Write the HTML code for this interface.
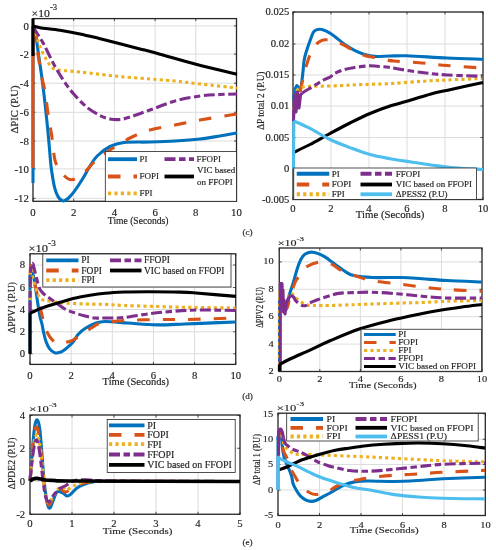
<!DOCTYPE html><html><head><meta charset="utf-8"><style>html,body{margin:0;padding:0;background:#fff;}svg{display:block;filter:blur(0.35px)}</style></head><body>
<svg width="496" height="550" viewBox="0 0 496 550" font-family="Liberation Serif, serif" fill="#262626">
<style>text{stroke:#262626;stroke-width:0.18px;}</style>
<rect width="496" height="550" fill="#fff"/>
<clipPath id="c1"><rect x="31" y="16.6" width="207.5" height="186.70000000000002"/></clipPath>
<rect x="33" y="18.6" width="203.5" height="182.70000000000002" fill="#fff"/>
<path d="M73.7,18.6V201.3M114.4,18.6V201.3M155.1,18.6V201.3M195.8,18.6V201.3M33,25.9H236.5M33,54.1H236.5M33,83.2H236.5M33,112.3H236.5M33,141H236.5M33,168.9H236.5M33,198.3H236.5" stroke="#dcdcdc" stroke-width="1" fill="none"/>
<path d="M33.0,201.3v-2.5M33.0,18.6v2.5M73.7,201.3v-2.5M73.7,18.6v2.5M114.4,201.3v-2.5M114.4,18.6v2.5M155.1,201.3v-2.5M155.1,18.6v2.5M195.8,201.3v-2.5M195.8,18.6v2.5M236.5,201.3v-2.5M236.5,18.6v2.5M33,25.9h2.5M236.5,25.9h-2.5M33,54.1h2.5M236.5,54.1h-2.5M33,83.2h2.5M236.5,83.2h-2.5M33,112.3h2.5M236.5,112.3h-2.5M33,141h2.5M236.5,141h-2.5M33,168.9h2.5M236.5,168.9h-2.5M33,198.3h2.5M236.5,198.3h-2.5" stroke="#262626" stroke-width="0.8" fill="none"/>
<rect x="33" y="18.6" width="203.5" height="182.70000000000002" fill="none" stroke="#262626" stroke-width="1.3"/>
<g clip-path="url(#c1)" fill="none" stroke-linejoin="round">
<path d="M33.00,26.00 L33.00,183.00" stroke="#0072BD" stroke-width="3.1"  stroke-linecap="butt"/>
<path d="M33.50,27.00 C33.75,27.67 34.45,28.50 35.00,31.00 C35.55,33.50 36.23,38.23 36.80,42.00 C37.37,45.77 37.57,47.75 38.40,53.60 C39.23,59.45 40.68,68.70 41.80,77.10 C42.92,85.50 43.98,93.92 45.10,104.00 C46.22,114.08 47.55,127.58 48.50,137.60 C49.45,147.62 50.13,157.63 50.80,164.10 C51.47,170.57 51.82,172.32 52.50,176.40 C53.18,180.48 53.95,185.20 54.90,188.60 C55.85,192.00 56.83,194.73 58.20,196.80 C59.57,198.87 61.47,200.72 63.10,201.00 C64.73,201.28 66.10,200.15 68.00,198.50 C69.90,196.85 72.05,194.38 74.50,191.10 C76.95,187.82 80.12,182.98 82.70,178.80 C85.28,174.62 87.58,169.80 90.00,166.00 C92.42,162.20 93.87,159.25 97.20,156.00 C100.53,152.75 105.53,148.75 110.00,146.50 C114.47,144.25 117.33,143.25 124.00,142.50 C130.67,141.75 141.50,142.25 150.00,142.00 C158.50,141.75 166.67,141.50 175.00,141.00 C183.33,140.50 192.50,139.83 200.00,139.00 C207.50,138.17 213.83,137.00 220.00,136.00 C226.17,135.00 234.17,133.50 237.00,133.00" stroke="#0072BD" stroke-width="3.1"  stroke-linecap="butt"/>
<path d="M33.00,26.00 L33.00,168.00" stroke="#D95319" stroke-width="3.1"  stroke-linecap="butt"/>
<path d="M33.50,27.00 C33.75,28.07 34.18,28.40 35.00,33.40 C35.82,38.40 37.27,49.72 38.40,57.00 C39.53,64.28 40.68,71.27 41.80,77.10 C42.92,82.93 43.98,85.27 45.10,92.00 C46.22,98.73 47.38,110.17 48.50,117.50 C49.62,124.83 50.73,128.92 51.80,136.00 C52.87,143.08 53.57,154.37 54.90,160.00 C56.23,165.63 58.28,167.22 59.80,169.80 C61.32,172.38 62.50,173.93 64.00,175.50 C65.50,177.07 67.30,178.53 68.80,179.20 C70.30,179.87 71.37,179.83 73.00,179.50 C74.63,179.17 76.60,178.45 78.60,177.20 C80.60,175.95 81.90,175.03 85.00,172.00 C88.10,168.97 93.03,162.67 97.20,159.00 C101.37,155.33 104.53,153.50 110.00,150.00 C115.47,146.50 123.33,141.33 130.00,138.00 C136.67,134.67 142.50,132.17 150.00,130.00 C157.50,127.83 166.67,126.67 175.00,125.00 C183.33,123.33 189.67,121.83 200.00,120.00 C210.33,118.17 230.83,115.00 237.00,114.00" stroke="#D95319" stroke-width="3.1" stroke-dasharray="12.5 13" stroke-linecap="butt"/>
<path d="M33.50,27.00 C33.75,27.80 33.90,28.48 35.00,31.80 C36.10,35.12 38.13,42.15 40.10,46.90 C42.07,51.65 44.57,56.67 46.80,60.30 C49.03,63.93 50.70,67.02 53.50,68.70 C56.30,70.38 59.12,69.83 63.60,70.40 C68.08,70.97 72.67,71.25 80.40,72.10 C88.13,72.95 102.57,74.68 110.00,75.50 C117.43,76.32 118.33,76.42 125.00,77.00 C131.67,77.58 141.67,78.33 150.00,79.00 C158.33,79.67 166.67,80.17 175.00,81.00 C183.33,81.83 189.67,82.83 200.00,84.00 C210.33,85.17 230.83,87.33 237.00,88.00" stroke="#EDB120" stroke-width="3.1" stroke-dasharray="3.2 3.2" stroke-linecap="butt"/>
<path d="M33.50,27.00 C33.75,27.50 33.35,27.25 35.00,30.00 C36.65,32.75 40.32,37.88 43.40,43.50 C46.48,49.12 50.13,57.53 53.50,63.70 C56.87,69.87 60.23,75.45 63.60,80.50 C66.97,85.55 69.78,89.52 73.70,94.00 C77.62,98.48 82.62,103.77 87.10,107.40 C91.58,111.03 96.78,113.87 100.60,115.80 C104.42,117.73 106.77,118.38 110.00,119.00 C113.23,119.62 116.67,119.83 120.00,119.50 C123.33,119.17 125.00,118.58 130.00,117.00 C135.00,115.42 142.50,112.67 150.00,110.00 C157.50,107.33 166.67,103.33 175.00,101.00 C183.33,98.67 192.50,97.08 200.00,96.00 C207.50,94.92 213.83,94.83 220.00,94.50 C226.17,94.17 234.17,94.08 237.00,94.00" stroke="#7E2F8E" stroke-width="3.1" stroke-dasharray="11 3.5 6.5 3.5" stroke-linecap="butt"/>
<path d="M33.00,18.50 L33.00,56.00" stroke="#000000" stroke-width="3.1"  stroke-linecap="butt"/>
<path d="M33.00,26.00 C34.17,26.28 35.50,27.00 40.00,27.70 C44.50,28.40 53.33,29.17 60.00,30.20 C66.67,31.23 73.33,32.48 80.00,33.90 C86.67,35.32 93.33,37.07 100.00,38.70 C106.67,40.33 113.33,42.00 120.00,43.70 C126.67,45.40 133.33,47.15 140.00,48.90 C146.67,50.65 150.67,51.65 160.00,54.20 C169.33,56.75 183.17,60.87 196.00,64.20 C208.83,67.53 230.17,72.53 237.00,74.20" stroke="#000000" stroke-width="3.1"  stroke-linecap="butt"/>
</g>
<text font-size="10.8" text-anchor="middle" transform="translate(33.00,216.15) scale(1,1.0)">0</text>
<text font-size="10.8" text-anchor="middle" transform="translate(73.70,216.15) scale(1,1.0)">2</text>
<text font-size="10.8" text-anchor="middle" transform="translate(114.40,216.15) scale(1,1.0)">4</text>
<text font-size="10.8" text-anchor="middle" transform="translate(155.10,216.15) scale(1,1.0)">6</text>
<text font-size="10.8" text-anchor="middle" transform="translate(195.80,216.15) scale(1,1.0)">8</text>
<text font-size="10.8" text-anchor="middle" transform="translate(236.50,216.15) scale(1,1.0)">10</text>
<text font-size="10.8" text-anchor="end" transform="translate(28.80,29.55) scale(1,1.0)">0</text>
<text font-size="10.8" text-anchor="end" transform="translate(28.80,57.75) scale(1,1.0)">-2</text>
<text font-size="10.8" text-anchor="end" transform="translate(28.80,86.85) scale(1,1.0)">-4</text>
<text font-size="10.8" text-anchor="end" transform="translate(28.80,115.95) scale(1,1.0)">-6</text>
<text font-size="10.8" text-anchor="end" transform="translate(28.80,144.65) scale(1,1.0)">-8</text>
<text font-size="10.8" text-anchor="end" transform="translate(28.80,172.55) scale(1,1.0)">-10</text>
<text font-size="10.8" text-anchor="end" transform="translate(28.80,201.95) scale(1,1.0)">-12</text>
<text font-size="9.6" text-anchor="middle" transform="translate(138.2,224.2) scale(1,1.0)">Time (Seconds)</text>
<text font-size="10.6" text-anchor="middle" transform="translate(18,109.5) rotate(-90) scale(1.0,1)">ΔPIC (P.U)</text>
<text font-size="11.7" transform="translate(31.61,16.6) scale(1,0.9)">×10<tspan font-size="8.66" dy="-7.02">-3</tspan></text>
<rect x="105.3" y="151.5" width="131.2" height="49.80000000000001" fill="#fff" stroke="#262626" stroke-width="0.8"/>
<path d="M108,159.2H137" stroke="#0072BD" stroke-width="3.8"  fill="none"/>
<text font-size="9" transform="translate(139.5,162.17) scale(1,1.0)">PI</text>
<path d="M108,176.5H137" stroke="#D95319" stroke-width="3.8" stroke-dasharray="12.5 13" fill="none"/>
<text font-size="9" transform="translate(139.5,179.47) scale(1,1.0)">FOPI</text>
<path d="M108,193.4H137" stroke="#EDB120" stroke-width="3.8" stroke-dasharray="3.2 3.2" fill="none"/>
<text font-size="9" transform="translate(139.5,196.37) scale(1,1.0)">FPI</text>
<path d="M164.5,159.2H194" stroke="#7E2F8E" stroke-width="3.8" stroke-dasharray="11 3.5 6.5 3.5" fill="none"/>
<text font-size="9" transform="translate(196.5,162.17) scale(1,1.0)">FFOPI</text>
<path d="M164.5,176.5H194" stroke="#000000" stroke-width="3.8"  fill="none"/>
<clipPath id="c2"><rect x="291" y="10" width="194" height="191.5"/></clipPath>
<rect x="293" y="12" width="190" height="187.5" fill="#fff"/>
<path d="M331.0,12V199.5M369.0,12V199.5M407.0,12V199.5M445.0,12V199.5M293,44H483M293,75H483M293,106H483M293,137.5H483M293,168.75H483" stroke="#dcdcdc" stroke-width="1" fill="none"/>
<path d="M293.0,199.5v-2.5M293.0,12v2.5M331.0,199.5v-2.5M331.0,12v2.5M369.0,199.5v-2.5M369.0,12v2.5M407.0,199.5v-2.5M407.0,12v2.5M445.0,199.5v-2.5M445.0,12v2.5M483.0,199.5v-2.5M483.0,12v2.5M293,12h2.5M483,12h-2.5M293,44h2.5M483,44h-2.5M293,75h2.5M483,75h-2.5M293,106h2.5M483,106h-2.5M293,137.5h2.5M483,137.5h-2.5M293,168.75h2.5M483,168.75h-2.5M293,199.5h2.5M483,199.5h-2.5" stroke="#262626" stroke-width="0.8" fill="none"/>
<rect x="293" y="12" width="190" height="187.5" fill="none" stroke="#262626" stroke-width="1.3"/>
<g clip-path="url(#c2)" fill="none" stroke-linejoin="round">
<path d="M293.50,100.00 C293.75,98.33 294.40,92.40 295.00,90.00 C295.60,87.60 296.42,85.50 297.10,85.60 C297.78,85.70 298.43,90.43 299.10,90.60 C299.77,90.77 300.43,89.95 301.10,86.60 C301.77,83.25 302.60,74.87 303.10,70.50 C303.60,66.13 303.60,63.43 304.10,60.40 C304.60,57.37 305.08,55.67 306.10,52.30 C307.12,48.93 308.85,43.72 310.20,40.20 C311.55,36.68 312.53,33.03 314.20,31.20 C315.87,29.37 318.18,29.20 320.20,29.20 C322.22,29.20 323.93,30.03 326.30,31.20 C328.67,32.37 331.38,34.02 334.40,36.20 C337.42,38.38 341.05,41.95 344.40,44.30 C347.75,46.65 351.13,48.62 354.50,50.30 C357.87,51.98 361.23,53.38 364.60,54.40 C367.97,55.42 370.47,56.13 374.70,56.40 C378.93,56.67 384.62,56.10 390.00,56.00 C395.38,55.90 397.50,55.47 407.00,55.80 C416.50,56.13 434.33,57.42 447.00,58.00 C459.67,58.58 477.00,59.04 483.00,59.25" stroke="#0072BD" stroke-width="3.1"  stroke-linecap="butt"/>
<path d="M300.00,92.00 C300.18,91.10 300.58,88.85 301.10,86.60 C301.62,84.35 302.27,81.85 303.10,78.50 C303.93,75.15 304.92,70.52 306.10,66.50 C307.28,62.48 308.52,58.10 310.20,54.40 C311.88,50.70 314.18,46.67 316.20,44.30 C318.22,41.93 320.45,40.95 322.30,40.20 C324.15,39.45 325.63,39.80 327.30,39.80 C328.97,39.80 329.45,39.28 332.30,40.20 C335.15,41.12 340.70,43.45 344.40,45.30 C348.10,47.15 351.13,49.62 354.50,51.30 C357.87,52.98 361.23,54.38 364.60,55.40 C367.97,56.42 370.67,56.57 374.70,57.40 C378.73,58.23 385.08,59.76 388.80,60.40 C392.52,61.04 391.47,60.82 397.00,61.25 C402.53,61.68 413.67,62.29 422.00,63.00 C430.33,63.71 437.00,64.67 447.00,65.50 C457.00,66.33 476.17,67.58 482.00,68.00" stroke="#D95319" stroke-width="3.1" stroke-dasharray="12.5 13" stroke-linecap="butt"/>
<path d="M293.50,110.00 C293.92,107.50 295.25,98.48 296.00,95.00 C296.75,91.52 296.32,90.50 298.00,89.10 C299.68,87.70 302.40,87.08 306.10,86.60 C309.80,86.12 314.48,86.37 320.20,86.20 C325.92,86.03 333.67,85.87 340.40,85.60 C347.13,85.33 352.33,84.93 360.60,84.60 C368.87,84.27 379.77,84.16 390.00,83.60 C400.23,83.04 412.50,81.85 422.00,81.25 C431.50,80.65 437.00,80.46 447.00,80.00 C457.00,79.54 476.17,78.75 482.00,78.50" stroke="#EDB120" stroke-width="3.1" stroke-dasharray="3.2 3.2" stroke-linecap="butt"/>
<path d="M293.50,121.00 C293.50,121.00 294.50,95.00 294.50,95.00 C294.50,95.00 296.00,112.00 296.00,112.00 C296.00,112.00 297.50,92.00 297.50,92.00 C297.50,92.00 299.00,108.00 299.00,108.00 C299.00,108.00 300.50,95.00 300.50,95.00 C300.50,95.00 302.10,93.10 302.10,93.10" stroke="#7E2F8E" stroke-width="3.1"  stroke-linecap="butt"/>
<path d="M302.10,93.10 C302.77,92.67 304.75,91.33 306.10,90.50 C307.45,89.67 308.85,88.92 310.20,88.10 C311.55,87.28 312.53,86.60 314.20,85.60 C315.87,84.60 318.52,83.10 320.20,82.10 C321.88,81.10 322.62,80.45 324.30,79.60 C325.98,78.75 328.62,78.02 330.30,77.00 C331.98,75.98 332.05,74.75 334.40,73.50 C336.75,72.25 341.05,70.50 344.40,69.50 C347.75,68.50 350.80,68.08 354.50,67.50 C358.20,66.92 363.23,66.25 366.60,66.00 C369.97,65.75 370.80,65.75 374.70,66.00 C378.60,66.25 386.28,67.04 390.00,67.50 C393.72,67.96 391.67,67.92 397.00,68.75 C402.33,69.58 413.67,71.46 422.00,72.50 C430.33,73.54 437.00,74.38 447.00,75.00 C457.00,75.62 476.17,76.04 482.00,76.25" stroke="#7E2F8E" stroke-width="3.1" stroke-dasharray="11 3.5 6.5 3.5" stroke-linecap="butt"/>
<path d="M293.50,152.50 C296.25,151.17 303.92,147.67 310.00,144.50 C316.08,141.33 323.33,137.08 330.00,133.50 C336.67,129.92 343.33,126.33 350.00,123.00 C356.67,119.67 363.33,116.33 370.00,113.50 C376.67,110.67 383.17,108.25 390.00,106.00 C396.83,103.75 404.17,102.00 411.00,100.00 C417.83,98.00 424.33,95.75 431.00,94.00 C437.67,92.25 442.33,91.42 451.00,89.50 C459.67,87.58 477.67,83.67 483.00,82.50" stroke="#000000" stroke-width="3.1"  stroke-linecap="butt"/>
<path d="M293.50,168.75 L293.80,121.00" stroke="#4DBEEE" stroke-width="3.1"  stroke-linecap="butt"/>
<path d="M293.80,121.00 C296.50,122.23 303.97,125.32 310.00,128.40 C316.03,131.48 323.33,136.30 330.00,139.50 C336.67,142.70 343.33,145.08 350.00,147.60 C356.67,150.12 363.33,152.75 370.00,154.60 C376.67,156.45 383.17,157.47 390.00,158.70 C396.83,159.93 404.17,160.95 411.00,162.00 C417.83,163.05 424.33,164.08 431.00,165.00 C437.67,165.92 442.33,166.75 451.00,167.50 C459.67,168.25 477.67,169.17 483.00,169.50" stroke="#4DBEEE" stroke-width="3.1"  stroke-linecap="butt"/>
</g>
<text font-size="10.6" text-anchor="middle" transform="translate(293.00,212.30) scale(1,0.92)">0</text>
<text font-size="10.6" text-anchor="middle" transform="translate(331.00,212.30) scale(1,0.92)">2</text>
<text font-size="10.6" text-anchor="middle" transform="translate(369.00,212.30) scale(1,0.92)">4</text>
<text font-size="10.6" text-anchor="middle" transform="translate(407.00,212.30) scale(1,0.92)">6</text>
<text font-size="10.6" text-anchor="middle" transform="translate(445.00,212.30) scale(1,0.92)">8</text>
<text font-size="10.6" text-anchor="middle" transform="translate(483.00,212.30) scale(1,0.92)">10</text>
<text font-size="10.6" text-anchor="end" transform="translate(289.30,15.30) scale(1,0.92)">0.025</text>
<text font-size="10.6" text-anchor="end" transform="translate(289.30,47.30) scale(1,0.92)">0.02</text>
<text font-size="10.6" text-anchor="end" transform="translate(289.30,78.30) scale(1,0.92)">0.015</text>
<text font-size="10.6" text-anchor="end" transform="translate(289.30,109.30) scale(1,0.92)">0.01</text>
<text font-size="10.6" text-anchor="end" transform="translate(289.30,140.80) scale(1,0.92)">0.005</text>
<text font-size="10.6" text-anchor="end" transform="translate(289.30,172.05) scale(1,0.92)">0</text>
<text font-size="10.6" text-anchor="end" transform="translate(289.30,202.80) scale(1,0.92)">-0.005</text>
<text font-size="10.85" text-anchor="middle" transform="translate(390,218.2) scale(1,0.93)">Time (Seconds)</text>
<text font-size="9.8" text-anchor="middle" transform="translate(264,100.7) rotate(-90) scale(0.95,1)">ΔP total 2 (P.U)</text>
<rect x="293.75" y="168" width="182.75" height="31.5" fill="#fff" stroke="#262626" stroke-width="0.8"/>
<path d="M296.75,173.75H329.25" stroke="#0072BD" stroke-width="3.8"  fill="none"/>
<text font-size="9" transform="translate(331.75,176.72) scale(1,1.0)">PI</text>
<path d="M296.75,184.5H329.25" stroke="#D95319" stroke-width="3.8" stroke-dasharray="12.5 13" fill="none"/>
<text font-size="9" transform="translate(331.75,187.47) scale(1,1.0)">FOPI</text>
<path d="M296.75,194.25H329.25" stroke="#EDB120" stroke-width="3.8" stroke-dasharray="3.2 3.2" fill="none"/>
<text font-size="9" transform="translate(331.75,197.22) scale(1,1.0)">FPI</text>
<path d="M360.5,173.75H392" stroke="#7E2F8E" stroke-width="3.8" stroke-dasharray="11 3.5 6.5 3.5" fill="none"/>
<text font-size="9" transform="translate(395.75,176.72) scale(1,1.0)">FFOPI</text>
<path d="M360.5,184.5H392" stroke="#000000" stroke-width="3.8"  fill="none"/>
<text font-size="9" transform="translate(395.75,187.47) scale(1,1.0)">VIC based on FFOPI</text>
<path d="M360.5,194.25H392" stroke="#4DBEEE" stroke-width="3.8"  fill="none"/>
<text font-size="9" transform="translate(395.75,197.22) scale(1,1.0)">ΔPESS2 (P.U)</text>
<clipPath id="c3"><rect x="28" y="251.8" width="209.75" height="114.59999999999997"/></clipPath>
<rect x="30" y="253.8" width="205.75" height="110.59999999999997" fill="#fff"/>
<path d="M71.15,253.8V364.4M112.3,253.8V364.4M153.45,253.8V364.4M194.6,253.8V364.4M30,265H235.75M30,287.5H235.75M30,309.5H235.75M30,331.75H235.75M30,353.75H235.75" stroke="#dcdcdc" stroke-width="1" fill="none"/>
<path d="M30.0,364.4v-2.5M30.0,253.8v2.5M71.15,364.4v-2.5M71.15,253.8v2.5M112.3,364.4v-2.5M112.3,253.8v2.5M153.45,364.4v-2.5M153.45,253.8v2.5M194.6,364.4v-2.5M194.6,253.8v2.5M235.75,364.4v-2.5M235.75,253.8v2.5M30,265h2.5M235.75,265h-2.5M30,287.5h2.5M235.75,287.5h-2.5M30,309.5h2.5M235.75,309.5h-2.5M30,331.75h2.5M235.75,331.75h-2.5M30,353.75h2.5M235.75,353.75h-2.5" stroke="#262626" stroke-width="0.8" fill="none"/>
<rect x="30" y="253.8" width="205.75" height="110.59999999999997" fill="none" stroke="#262626" stroke-width="1.3"/>
<g clip-path="url(#c3)" fill="none" stroke-linejoin="round">
<path d="M30.00,353.00 L30.00,275.00" stroke="#0072BD" stroke-width="3.1"  stroke-linecap="butt"/>
<path d="M30.00,280.00 C30.17,278.67 30.42,272.62 31.00,272.00 C31.58,271.38 32.68,273.22 33.50,276.30 C34.32,279.38 35.22,286.17 35.90,290.50 C36.58,294.83 36.92,297.97 37.60,302.30 C38.28,306.63 39.25,312.80 40.00,316.50 C40.75,320.20 41.48,321.75 42.10,324.50 C42.72,327.25 43.02,330.08 43.70,333.00 C44.38,335.92 45.23,339.40 46.20,342.00 C47.17,344.60 48.13,346.83 49.50,348.60 C50.87,350.37 52.77,351.93 54.40,352.60 C56.03,353.27 57.53,353.13 59.30,352.60 C61.07,352.07 62.82,351.03 65.00,349.40 C67.18,347.77 70.23,345.28 72.40,342.80 C74.57,340.32 75.90,336.88 78.00,334.50 C80.10,332.12 82.17,330.33 85.00,328.50 C87.83,326.67 91.67,324.67 95.00,323.50 C98.33,322.33 99.50,321.58 105.00,321.50 C110.50,321.42 119.42,322.43 128.00,323.00 C136.58,323.57 147.05,324.73 156.50,324.90 C165.95,325.07 175.28,324.33 184.70,324.00 C194.12,323.67 204.49,323.23 213.00,322.90 C221.51,322.57 231.96,322.15 235.75,322.00" stroke="#0072BD" stroke-width="3.1"  stroke-linecap="butt"/>
<path d="M30.00,275.00 C30.17,273.50 30.32,265.00 31.00,266.00 C31.68,267.00 33.18,276.92 34.10,281.00 C35.02,285.08 35.72,286.95 36.50,290.50 C37.28,294.05 37.92,298.37 38.80,302.30 C39.68,306.23 40.85,310.07 41.80,314.10 C42.75,318.13 43.22,322.80 44.50,326.50 C45.78,330.20 47.92,333.80 49.50,336.30 C51.08,338.80 52.67,340.30 54.00,341.50 C55.33,342.70 56.33,343.22 57.50,343.50 C58.67,343.78 58.52,343.72 61.00,343.20 C63.48,342.68 68.40,342.27 72.40,340.40 C76.40,338.53 81.57,334.23 85.00,332.00 C88.43,329.77 90.50,328.42 93.00,327.00 C95.50,325.58 94.83,324.58 100.00,323.50 C105.17,322.42 113.75,321.17 124.00,320.50 C134.25,319.83 151.08,319.67 161.50,319.50 C171.92,319.33 174.12,319.75 186.50,319.50 C198.88,319.25 227.54,318.25 235.75,318.00" stroke="#D95319" stroke-width="3.1" stroke-dasharray="12.5 13" stroke-linecap="butt"/>
<path d="M30.00,300.00 C30.08,295.33 30.33,277.00 30.50,272.00 C30.67,267.00 30.58,269.00 31.00,270.00 C31.42,271.00 32.00,274.33 33.00,278.00 C34.00,281.67 35.67,288.50 37.00,292.00 C38.33,295.50 39.00,297.50 41.00,299.00 C43.00,300.50 45.00,300.33 49.00,301.00 C53.00,301.67 59.00,302.50 65.00,303.00 C71.00,303.50 78.33,303.77 85.00,304.00 C91.67,304.23 98.50,304.15 105.00,304.40 C111.50,304.65 116.67,305.19 124.00,305.50 C131.33,305.81 140.67,306.00 149.00,306.25 C157.33,306.50 165.67,306.79 174.00,307.00 C182.33,307.21 188.71,307.33 199.00,307.50 C209.29,307.67 229.62,307.92 235.75,308.00" stroke="#EDB120" stroke-width="3.1" stroke-dasharray="3.2 3.2" stroke-linecap="butt"/>
<path d="M30.00,312.00 C30.08,305.83 30.25,282.83 30.50,275.00 C30.75,267.17 31.08,266.83 31.50,265.00 C31.92,263.17 32.42,262.83 33.00,264.00 C33.58,265.17 34.00,268.17 35.00,272.00 C36.00,275.83 37.83,283.67 39.00,287.00 C40.17,290.33 41.00,290.67 42.00,292.00 C43.00,293.33 42.83,293.33 45.00,295.00 C47.17,296.67 51.67,299.67 55.00,302.00 C58.33,304.33 61.67,307.17 65.00,309.00 C68.33,310.83 71.67,311.83 75.00,313.00 C78.33,314.17 81.67,315.17 85.00,316.00 C88.33,316.83 91.67,317.67 95.00,318.00 C98.33,318.33 100.17,318.08 105.00,318.00 C109.83,317.92 116.67,318.21 124.00,317.50 C131.33,316.79 140.67,314.79 149.00,313.75 C157.33,312.71 165.67,311.88 174.00,311.25 C182.33,310.62 188.71,310.12 199.00,310.00 C209.29,309.88 229.62,310.42 235.75,310.50" stroke="#7E2F8E" stroke-width="3.1" stroke-dasharray="11 3.5 6.5 3.5" stroke-linecap="butt"/>
<path d="M30.00,354.00 L30.00,312.50" stroke="#000000" stroke-width="3.1"  stroke-linecap="butt"/>
<path d="M30.00,313.00 C30.83,312.67 33.33,311.70 35.00,311.00 C36.67,310.30 37.50,309.75 40.00,308.80 C42.50,307.85 46.67,306.38 50.00,305.30 C53.33,304.22 55.00,303.67 60.00,302.30 C65.00,300.93 72.50,298.60 80.00,297.10 C87.50,295.60 97.67,294.15 105.00,293.30 C112.33,292.45 116.50,292.27 124.00,292.00 C131.50,291.73 140.67,291.68 150.00,291.70 C159.33,291.72 172.33,291.88 180.00,292.10 C187.67,292.32 186.67,292.28 196.00,293.00 C205.33,293.72 229.33,295.83 236.00,296.40" stroke="#000000" stroke-width="3.1"  stroke-linecap="butt"/>
</g>
<text font-size="10.7" text-anchor="middle" transform="translate(30.00,378.54) scale(1,0.95)">0</text>
<text font-size="10.7" text-anchor="middle" transform="translate(71.15,378.54) scale(1,0.95)">2</text>
<text font-size="10.7" text-anchor="middle" transform="translate(112.30,378.54) scale(1,0.95)">4</text>
<text font-size="10.7" text-anchor="middle" transform="translate(153.45,378.54) scale(1,0.95)">6</text>
<text font-size="10.7" text-anchor="middle" transform="translate(194.60,378.54) scale(1,0.95)">8</text>
<text font-size="10.7" text-anchor="middle" transform="translate(235.75,378.54) scale(1,0.95)">10</text>
<text font-size="10.7" text-anchor="end" transform="translate(25.20,268.44) scale(1,0.95)">8</text>
<text font-size="10.7" text-anchor="end" transform="translate(25.20,290.94) scale(1,0.95)">6</text>
<text font-size="10.7" text-anchor="end" transform="translate(25.20,312.94) scale(1,0.95)">4</text>
<text font-size="10.7" text-anchor="end" transform="translate(25.20,335.19) scale(1,0.95)">2</text>
<text font-size="10.7" text-anchor="end" transform="translate(25.20,357.19) scale(1,0.95)">0</text>
<text font-size="10.5" text-anchor="middle" transform="translate(135.8,385.2) scale(1,0.95)">Time (Seconds)</text>
<text font-size="10" text-anchor="middle" transform="translate(15.3,307.5) rotate(-90) scale(0.96,1)">ΔPPV1 (P.U)</text>
<text font-size="12.5" transform="translate(28.55,251.5) scale(1,0.78)">×10<tspan font-size="9.25" dy="-7.50">-3</tspan></text>
<rect x="42.8" y="254" width="188.2" height="33" fill="#fff" stroke="#262626" stroke-width="0.8"/>
<path d="M46.25,260.3H78.5" stroke="#0072BD" stroke-width="3.8"  fill="none"/>
<text font-size="9.5" transform="translate(81.25,263.44) scale(1,1.0)">PI</text>
<path d="M46.25,270.5H78.5" stroke="#D95319" stroke-width="3.8" stroke-dasharray="12.5 13" fill="none"/>
<text font-size="9.5" transform="translate(81.25,273.63) scale(1,1.0)">FOPI</text>
<path d="M46.25,280.2H78.5" stroke="#EDB120" stroke-width="3.8" stroke-dasharray="3.2 3.2" fill="none"/>
<text font-size="9.5" transform="translate(81.25,283.33) scale(1,1.0)">FPI</text>
<path d="M110,260.3H141.5" stroke="#7E2F8E" stroke-width="3.8" stroke-dasharray="11 3.5 6.5 3.5" fill="none"/>
<text font-size="9.5" transform="translate(144,263.44) scale(1,1.0)">FFOPI</text>
<path d="M110,270.5H141.5" stroke="#000000" stroke-width="3.8"  fill="none"/>
<text font-size="9.5" transform="translate(144,273.63) scale(1,1.0)">VIC based on FFOPI</text>
<clipPath id="c4"><rect x="277.25" y="246" width="206.75" height="127.5"/></clipPath>
<rect x="279.25" y="248" width="202.75" height="123.5" fill="#fff"/>
<path d="M319.8,248V371.5M360.35,248V371.5M400.9,248V371.5M441.45,248V371.5M279.25,261.9H482M279.25,289.3H482M279.25,316.7H482M279.25,344.1H482" stroke="#dcdcdc" stroke-width="1" fill="none"/>
<path d="M279.25,371.5v-2.5M279.25,248v2.5M319.8,371.5v-2.5M319.8,248v2.5M360.35,371.5v-2.5M360.35,248v2.5M400.9,371.5v-2.5M400.9,248v2.5M441.45,371.5v-2.5M441.45,248v2.5M482.0,371.5v-2.5M482.0,248v2.5M279.25,261.9h2.5M482,261.9h-2.5M279.25,289.3h2.5M482,289.3h-2.5M279.25,316.7h2.5M482,316.7h-2.5M279.25,344.1h2.5M482,344.1h-2.5M279.25,371.5h2.5M482,371.5h-2.5" stroke="#262626" stroke-width="0.8" fill="none"/>
<rect x="279.25" y="248" width="202.75" height="123.5" fill="none" stroke="#262626" stroke-width="1.3"/>
<g clip-path="url(#c4)" fill="none" stroke-linejoin="round">
<path d="M279.50,371.00 L279.50,300.00" stroke="#0072BD" stroke-width="3.1"  stroke-linecap="butt"/>
<path d="M279.50,300.00 C279.92,301.00 281.03,304.17 282.00,306.00 C282.97,307.83 284.35,311.17 285.30,311.00 C286.25,310.83 287.08,307.50 287.70,305.00 C288.32,302.50 288.10,299.62 289.00,296.00 C289.90,292.38 291.75,287.77 293.10,283.30 C294.45,278.83 295.77,273.23 297.10,269.20 C298.43,265.17 299.75,261.62 301.10,259.10 C302.45,256.58 303.52,255.27 305.20,254.10 C306.88,252.93 309.02,252.18 311.20,252.10 C313.38,252.02 315.95,252.77 318.30,253.60 C320.65,254.43 322.52,255.33 325.30,257.10 C328.08,258.87 331.45,261.65 335.00,264.20 C338.55,266.75 343.43,270.50 346.60,272.40 C349.77,274.30 349.77,274.75 354.00,275.60 C358.23,276.45 364.00,277.18 372.00,277.50 C380.00,277.82 393.67,277.29 402.00,277.50 C410.33,277.71 414.50,278.25 422.00,278.75 C429.50,279.25 437.00,279.96 447.00,280.50 C457.00,281.04 476.17,281.75 482.00,282.00" stroke="#0072BD" stroke-width="3.1"  stroke-linecap="butt"/>
<path d="M283.00,306.00 C283.67,306.33 285.83,309.50 287.00,308.00 C288.17,306.50 288.65,301.28 290.00,297.00 C291.35,292.72 293.42,285.93 295.10,282.30 C296.78,278.67 298.17,277.80 300.10,275.20 C302.03,272.60 303.83,268.83 306.70,266.70 C309.57,264.57 314.68,263.13 317.30,262.40 C319.92,261.67 320.22,262.10 322.40,262.30 C324.58,262.50 328.30,262.95 330.40,263.60 C332.50,264.25 332.90,264.88 335.00,266.20 C337.10,267.52 339.83,269.95 343.00,271.50 C346.17,273.05 349.17,274.00 354.00,275.50 C358.83,277.00 364.83,279.12 372.00,280.50 C379.17,281.88 388.67,282.67 397.00,283.75 C405.33,284.83 413.67,286.04 422.00,287.00 C430.33,287.96 437.00,288.79 447.00,289.50 C457.00,290.21 476.17,290.96 482.00,291.25" stroke="#D95319" stroke-width="3.1" stroke-dasharray="12.5 13" stroke-linecap="butt"/>
<path d="M279.50,371.00 C279.50,359.17 279.33,312.93 279.50,300.00 C279.67,287.07 279.80,293.43 280.50,293.40 C281.20,293.37 282.63,298.45 283.70,299.80 C284.77,301.15 285.83,302.57 286.90,301.50 C287.97,300.43 289.02,294.48 290.10,293.40 C291.18,292.32 292.05,293.93 293.40,295.00 C294.75,296.07 296.05,298.18 298.20,299.80 C300.35,301.42 303.62,303.75 306.30,304.70 C308.98,305.65 310.27,305.37 314.30,305.50 C318.33,305.63 323.88,305.63 330.50,305.50 C337.12,305.37 347.08,304.95 354.00,304.70 C360.92,304.45 364.00,304.28 372.00,304.00 C380.00,303.72 393.67,303.25 402.00,303.00 C410.33,302.75 414.50,302.79 422.00,302.50 C429.50,302.21 437.00,301.58 447.00,301.25 C457.00,300.92 476.17,300.62 482.00,300.50" stroke="#EDB120" stroke-width="3.1" stroke-dasharray="3.2 3.2" stroke-linecap="butt"/>
<path d="M280.30,371.50 C280.30,371.50 280.30,283.50 280.30,283.50 C280.30,283.50 282.00,283.50 282.00,283.50 C282.00,283.50 282.50,300.00 282.50,300.00 C282.50,300.00 281.50,306.00 281.50,306.00 C281.50,306.00 283.00,290.00 283.00,290.00 C283.00,290.00 283.50,312.00 283.50,312.00 C283.50,312.00 284.00,300.00 284.00,300.00 C284.00,300.00 285.00,314.00 285.00,314.00 C285.00,314.00 286.30,303.70 286.30,303.70 C286.30,303.70 288.00,299.00 288.00,299.00 C288.00,299.00 290.40,295.50 290.40,295.50" stroke="#7E2F8E" stroke-width="3.1"  stroke-linecap="butt"/>
<path d="M290.40,295.50 C290.95,295.77 292.75,296.15 293.70,297.10 C294.65,298.05 294.73,299.83 296.10,301.20 C297.47,302.57 300.25,304.58 301.90,305.30 C303.55,306.02 304.73,305.87 306.00,305.50 C307.27,305.13 307.58,304.05 309.50,303.10 C311.42,302.15 314.55,300.88 317.50,299.80 C320.45,298.72 323.70,297.67 327.20,296.60 C330.70,295.53 334.03,294.07 338.50,293.40 C342.97,292.73 348.42,292.80 354.00,292.60 C359.58,292.40 364.83,292.01 372.00,292.20 C379.17,292.39 388.67,293.07 397.00,293.75 C405.33,294.43 413.67,295.54 422.00,296.25 C430.33,296.96 437.00,297.71 447.00,298.00 C457.00,298.29 476.17,298.00 482.00,298.00" stroke="#7E2F8E" stroke-width="3.1" stroke-dasharray="11 3.5 6.5 3.5" stroke-linecap="butt"/>
<path d="M279.40,371.50 L279.40,364.50" stroke="#000000" stroke-width="3.1"  stroke-linecap="butt"/>
<path d="M279.50,364.50 C281.25,363.58 284.92,361.40 290.00,359.00 C295.08,356.60 303.33,353.13 310.00,350.10 C316.67,347.07 321.67,344.35 330.00,340.80 C338.33,337.25 350.00,332.18 360.00,328.80 C370.00,325.42 380.00,322.97 390.00,320.50 C400.00,318.03 411.67,315.70 420.00,314.00 C428.33,312.30 433.00,311.47 440.00,310.30 C447.00,309.13 455.00,307.97 462.00,307.00 C469.00,306.03 478.67,304.92 482.00,304.50" stroke="#000000" stroke-width="3.1"  stroke-linecap="butt"/>
</g>
<text font-size="10.4" text-anchor="middle" transform="translate(279.25,381.76) scale(1,0.7)">0</text>
<text font-size="10.4" text-anchor="middle" transform="translate(319.80,381.76) scale(1,0.7)">2</text>
<text font-size="10.4" text-anchor="middle" transform="translate(360.35,381.76) scale(1,0.7)">4</text>
<text font-size="10.4" text-anchor="middle" transform="translate(400.90,381.76) scale(1,0.7)">6</text>
<text font-size="10.4" text-anchor="middle" transform="translate(441.45,381.76) scale(1,0.7)">8</text>
<text font-size="10.4" text-anchor="middle" transform="translate(482.00,381.76) scale(1,0.7)">10</text>
<text font-size="10.4" text-anchor="end" transform="translate(273.60,264.36) scale(1,0.7)">10</text>
<text font-size="10.4" text-anchor="end" transform="translate(273.60,291.76) scale(1,0.7)">8</text>
<text font-size="10.4" text-anchor="end" transform="translate(273.60,319.16) scale(1,0.7)">6</text>
<text font-size="10.4" text-anchor="end" transform="translate(273.60,346.56) scale(1,0.7)">4</text>
<text font-size="10.4" text-anchor="end" transform="translate(273.60,373.96) scale(1,0.7)">2</text>
<text font-size="10.7" text-anchor="middle" transform="translate(382.8,387.5) scale(1,0.68)">Time (Seconds)</text>
<text font-size="9.6" text-anchor="middle" transform="translate(263.4,307.5) rotate(-90) scale(0.8,1)">ΔPPV2 (P.U)</text>
<text font-size="12.1" transform="translate(277.63,246) scale(1,0.7)">×10<tspan font-size="8.95" dy="-7.26">-3</tspan></text>
<rect x="361" y="329.25" width="120.5" height="42.0" fill="#fff" stroke="#262626" stroke-width="0.8"/>
<path d="M364,334.5H395.75" stroke="#0072BD" stroke-width="3.0"  fill="none"/>
<text font-size="9.2" transform="translate(398.25,336.93) scale(1,0.8)">PI</text>
<path d="M364,342.5H395.75" stroke="#D95319" stroke-width="3.0" stroke-dasharray="12.5 13" fill="none"/>
<text font-size="9.2" transform="translate(398.25,344.93) scale(1,0.8)">FOPI</text>
<path d="M364,350.5H395.75" stroke="#EDB120" stroke-width="3.0" stroke-dasharray="3.2 3.2" fill="none"/>
<text font-size="9.2" transform="translate(398.25,352.93) scale(1,0.8)">FPI</text>
<path d="M364,358.5H395.75" stroke="#7E2F8E" stroke-width="3.0" stroke-dasharray="11 3.5 6.5 3.5" fill="none"/>
<text font-size="9.2" transform="translate(398.25,360.93) scale(1,0.8)">FFOPI</text>
<path d="M364,366.5H395.75" stroke="#000000" stroke-width="3.0"  fill="none"/>
<text font-size="9.2" transform="translate(398.25,368.93) scale(1,0.8)">VIC based on FFOPI</text>
<clipPath id="c5"><rect x="28" y="413" width="214" height="103.25"/></clipPath>
<rect x="30" y="415" width="210" height="99.25" fill="#fff"/>
<path d="M72.0,415V514.25M114.0,415V514.25M156.0,415V514.25M198.0,415V514.25M30,448.25H240M30,481.25H240" stroke="#dcdcdc" stroke-width="1" fill="none"/>
<path d="M30.0,514.25v-2.5M30.0,415v2.5M72.0,514.25v-2.5M72.0,415v2.5M114.0,514.25v-2.5M114.0,415v2.5M156.0,514.25v-2.5M156.0,415v2.5M198.0,514.25v-2.5M198.0,415v2.5M240.0,514.25v-2.5M240.0,415v2.5M30,415.5h2.5M240,415.5h-2.5M30,448.25h2.5M240,448.25h-2.5M30,481.25h2.5M240,481.25h-2.5M30,514.25h2.5M240,514.25h-2.5" stroke="#262626" stroke-width="0.8" fill="none"/>
<rect x="30" y="415" width="210" height="99.25" fill="none" stroke="#262626" stroke-width="1.3"/>
<g clip-path="url(#c5)" fill="none" stroke-linejoin="round">
<path d="M30.00,481.00 C30.33,476.67 31.33,463.17 32.00,455.00 C32.67,446.83 33.33,437.67 34.00,432.00 C34.67,426.33 35.33,422.83 36.00,421.00 C36.67,419.17 37.33,419.33 38.00,421.00 C38.67,422.67 39.33,425.33 40.00,431.00 C40.67,436.67 41.33,446.83 42.00,455.00 C42.67,463.17 43.33,473.17 44.00,480.00 C44.67,486.83 45.33,491.67 46.00,496.00 C46.67,500.33 47.33,504.00 48.00,506.00 C48.67,508.00 49.17,508.83 50.00,508.00 C50.83,507.17 51.83,503.67 53.00,501.00 C54.17,498.33 55.33,493.33 57.00,492.00 C58.67,490.67 61.33,492.33 63.00,493.00 C64.67,493.67 65.67,495.83 67.00,496.00 C68.33,496.17 69.33,495.33 71.00,494.00 C72.67,492.67 74.67,489.67 77.00,488.00 C79.33,486.33 82.33,485.00 85.00,484.00 C87.67,483.00 89.67,482.42 93.00,482.00 C96.33,481.58 80.50,481.58 105.00,481.50 C129.50,481.42 217.50,481.50 240.00,481.50" stroke="#0072BD" stroke-width="3.1"  stroke-linecap="butt"/>
<path d="M30.00,481.00 C30.33,477.17 31.33,465.50 32.00,458.00 C32.67,450.50 33.33,441.17 34.00,436.00 C34.67,430.83 35.33,428.00 36.00,427.00 C36.67,426.00 37.33,427.50 38.00,430.00 C38.67,432.50 39.33,436.67 40.00,442.00 C40.67,447.33 41.33,455.17 42.00,462.00 C42.67,468.83 43.33,477.00 44.00,483.00 C44.67,489.00 45.17,494.33 46.00,498.00 C46.83,501.67 47.83,505.00 49.00,505.00 C50.17,505.00 51.67,500.50 53.00,498.00 C54.33,495.50 55.67,491.50 57.00,490.00 C58.33,488.50 59.67,488.67 61.00,489.00 C62.33,489.33 63.50,491.83 65.00,492.00 C66.50,492.17 68.00,491.17 70.00,490.00 C72.00,488.83 73.67,486.33 77.00,485.00 C80.33,483.67 85.33,482.58 90.00,482.00 C94.67,481.42 80.00,481.58 105.00,481.50 C130.00,481.42 217.50,481.50 240.00,481.50" stroke="#D95319" stroke-width="3.1" stroke-dasharray="12.5 13" stroke-linecap="butt"/>
<path d="M30.00,481.00 C30.33,477.50 31.33,466.50 32.00,460.00 C32.67,453.50 33.17,446.33 34.00,442.00 C34.83,437.67 36.17,434.33 37.00,434.00 C37.83,433.67 38.17,435.33 39.00,440.00 C39.83,444.67 41.17,455.00 42.00,462.00 C42.83,469.00 43.33,476.17 44.00,482.00 C44.67,487.83 45.17,493.50 46.00,497.00 C46.83,500.50 47.83,503.00 49.00,503.00 C50.17,503.00 51.50,499.33 53.00,497.00 C54.50,494.67 56.33,490.67 58.00,489.00 C59.67,487.33 61.67,486.83 63.00,487.00 C64.33,487.17 64.50,490.00 66.00,490.00 C67.50,490.00 69.67,488.17 72.00,487.00 C74.33,485.83 76.17,483.92 80.00,483.00 C83.83,482.08 68.33,481.75 95.00,481.50 C121.67,481.25 215.83,481.50 240.00,481.50" stroke="#EDB120" stroke-width="3.1" stroke-dasharray="3.2 3.2" stroke-linecap="butt"/>
<path d="M30.00,481.00 C30.33,477.83 31.33,467.67 32.00,462.00 C32.67,456.33 33.33,450.67 34.00,447.00 C34.67,443.33 35.33,440.67 36.00,440.00 C36.67,439.33 37.33,440.50 38.00,443.00 C38.67,445.50 39.33,450.17 40.00,455.00 C40.67,459.83 41.33,466.50 42.00,472.00 C42.67,477.50 43.33,483.67 44.00,488.00 C44.67,492.33 45.17,495.67 46.00,498.00 C46.83,500.33 47.83,502.33 49.00,502.00 C50.17,501.67 51.33,498.17 53.00,496.00 C54.67,493.83 57.00,490.67 59.00,489.00 C61.00,487.33 62.33,487.42 65.00,486.00 C67.67,484.58 70.83,481.50 75.00,480.50 C79.17,479.50 84.17,479.92 90.00,480.00 C95.83,480.08 85.00,480.75 110.00,481.00 C135.00,481.25 218.33,481.42 240.00,481.50" stroke="#7E2F8E" stroke-width="3.1" stroke-dasharray="11 3.5 6.5 3.5" stroke-linecap="butt"/>
<path d="M30.00,481.00 C30.50,480.67 31.83,479.43 33.00,479.00 C34.17,478.57 35.00,478.23 37.00,478.40 C39.00,478.57 42.00,479.65 45.00,480.00 C48.00,480.35 50.00,480.33 55.00,480.50 C60.00,480.67 44.17,480.83 75.00,481.00 C105.83,481.17 212.50,481.42 240.00,481.50" stroke="#000000" stroke-width="3.6"  stroke-linecap="butt"/>
</g>
<text font-size="10.7" text-anchor="middle" transform="translate(30.00,526.75) scale(1,0.9)">0</text>
<text font-size="10.7" text-anchor="middle" transform="translate(72.00,526.75) scale(1,0.9)">1</text>
<text font-size="10.7" text-anchor="middle" transform="translate(114.00,526.75) scale(1,0.9)">2</text>
<text font-size="10.7" text-anchor="middle" transform="translate(156.00,526.75) scale(1,0.9)">3</text>
<text font-size="10.7" text-anchor="middle" transform="translate(198.00,526.75) scale(1,0.9)">4</text>
<text font-size="10.7" text-anchor="middle" transform="translate(240.00,526.75) scale(1,0.9)">5</text>
<text font-size="10.7" text-anchor="end" transform="translate(25.20,418.75) scale(1,0.9)">4</text>
<text font-size="10.7" text-anchor="end" transform="translate(25.20,451.50) scale(1,0.9)">2</text>
<text font-size="10.7" text-anchor="end" transform="translate(25.20,484.50) scale(1,0.9)">0</text>
<text font-size="10.7" text-anchor="end" transform="translate(25.20,517.50) scale(1,0.9)">-2</text>
<text font-size="11" text-anchor="middle" transform="translate(137.6,534.2) scale(1,0.8)">Time (Seconds)</text>
<text font-size="10" text-anchor="middle" transform="translate(14.6,463.4) rotate(-90) scale(0.96,1)">ΔPDE2 (P.U)</text>
<text font-size="12.6" transform="translate(29.23,412.1) scale(1,0.72)">×10<tspan font-size="9.32" dy="-7.56">-3</tspan></text>
<rect x="107.2" y="419.5" width="127.99999999999999" height="53.0" fill="#fff" stroke="#262626" stroke-width="0.8"/>
<path d="M109,425.4H144.5" stroke="#0072BD" stroke-width="3.8"  fill="none"/>
<text font-size="10" transform="translate(147.2,428.70) scale(1,1.0)">PI</text>
<path d="M109,434.9H144.5" stroke="#D95319" stroke-width="3.8" stroke-dasharray="12.5 13" fill="none"/>
<text font-size="10" transform="translate(147.2,438.20) scale(1,1.0)">FOPI</text>
<path d="M109,444.2H144.5" stroke="#EDB120" stroke-width="3.8" stroke-dasharray="3.2 3.2" fill="none"/>
<text font-size="10" transform="translate(147.2,447.50) scale(1,1.0)">FPI</text>
<path d="M109,454.5H144.5" stroke="#7E2F8E" stroke-width="3.8" stroke-dasharray="11 3.5 6.5 3.5" fill="none"/>
<text font-size="10" transform="translate(147.2,457.80) scale(1,1.0)">FFOPI</text>
<path d="M109,464.9H144.5" stroke="#000000" stroke-width="3.8"  fill="none"/>
<text font-size="10" transform="translate(147.2,468.20) scale(1,1.0)">VIC based on FFOPI</text>
<clipPath id="c6"><rect x="276" y="411.2" width="211.3" height="106.30000000000001"/></clipPath>
<rect x="278" y="413.2" width="207.3" height="102.30000000000001" fill="#fff"/>
<path d="M319.5,413.2V515.5M361.0,413.2V515.5M402.5,413.2V515.5M444.0,413.2V515.5M278,439.25H485.3M278,464.5H485.3M278,490H485.3" stroke="#dcdcdc" stroke-width="1" fill="none"/>
<path d="M278.0,515.5v-2.5M278.0,413.2v2.5M319.5,515.5v-2.5M319.5,413.2v2.5M361.0,515.5v-2.5M361.0,413.2v2.5M402.5,515.5v-2.5M402.5,413.2v2.5M444.0,515.5v-2.5M444.0,413.2v2.5M485.5,515.5v-2.5M485.5,413.2v2.5M278,413.75h2.5M485.3,413.75h-2.5M278,439.25h2.5M485.3,439.25h-2.5M278,464.5h2.5M485.3,464.5h-2.5M278,490h2.5M485.3,490h-2.5M278,515.5h2.5M485.3,515.5h-2.5" stroke="#262626" stroke-width="0.8" fill="none"/>
<rect x="278" y="413.2" width="207.3" height="102.30000000000001" fill="none" stroke="#262626" stroke-width="1.3"/>
<g clip-path="url(#c6)" fill="none" stroke-linejoin="round">
<path d="M278.00,490.00 L278.00,436.00" stroke="#0072BD" stroke-width="3.1"  stroke-linecap="butt"/>
<path d="M278.00,440.00 C278.25,438.50 279.00,432.17 279.50,431.00 C280.00,429.83 280.52,430.28 281.00,433.00 C281.48,435.72 281.93,443.47 282.40,447.30 C282.87,451.13 283.20,453.47 283.80,456.00 C284.40,458.53 285.20,460.45 286.00,462.50 C286.80,464.55 287.67,466.02 288.60,468.30 C289.53,470.58 290.83,473.57 291.60,476.20 C292.37,478.83 292.38,481.72 293.20,484.10 C294.02,486.48 295.28,488.48 296.50,490.50 C297.72,492.52 298.90,494.58 300.50,496.20 C302.10,497.82 304.35,499.33 306.10,500.20 C307.85,501.07 309.25,501.40 311.00,501.40 C312.75,501.40 314.45,501.07 316.60,500.20 C318.75,499.33 321.67,497.40 323.90,496.20 C326.13,495.00 326.82,494.78 330.00,493.00 C333.18,491.22 338.72,487.40 343.00,485.50 C347.28,483.60 351.20,482.35 355.70,481.60 C360.20,480.85 363.58,481.02 370.00,481.00 C376.42,480.98 386.13,481.58 394.20,481.50 C402.27,481.42 410.33,480.95 418.40,480.50 C426.47,480.05 431.50,479.35 442.60,478.80 C453.70,478.25 477.93,477.47 485.00,477.20" stroke="#0072BD" stroke-width="3.1"  stroke-linecap="butt"/>
<path d="M278.50,440.00 C278.75,438.50 279.50,431.50 280.00,431.00 C280.50,430.50 280.98,433.92 281.50,437.00 C282.02,440.08 282.35,446.33 283.10,449.50 C283.85,452.67 285.15,454.08 286.00,456.00 C286.85,457.92 287.47,458.95 288.20,461.00 C288.93,463.05 289.22,465.67 290.40,468.30 C291.58,470.93 293.48,473.77 295.30,476.80 C297.12,479.83 298.82,483.80 301.30,486.50 C303.78,489.20 307.75,491.67 310.20,493.00 C312.65,494.33 313.72,494.50 316.00,494.50 C318.28,494.50 321.57,493.67 323.90,493.00 C326.23,492.33 327.82,491.67 330.00,490.50 C332.18,489.33 333.75,487.52 337.00,486.00 C340.25,484.48 345.67,482.48 349.50,481.40 C353.33,480.32 356.58,480.13 360.00,479.50 C363.42,478.87 364.30,478.32 370.00,477.60 C375.70,476.88 386.13,475.80 394.20,475.20 C402.27,474.60 410.33,474.48 418.40,474.00 C426.47,473.52 431.50,472.90 442.60,472.30 C453.70,471.70 477.93,470.72 485.00,470.40" stroke="#D95319" stroke-width="3.1" stroke-dasharray="12.5 13" stroke-linecap="butt"/>
<path d="M278.50,456.00 C278.50,452.67 278.25,439.73 278.50,436.00 C278.75,432.27 279.38,433.53 280.00,433.60 C280.62,433.67 281.45,434.37 282.20,436.40 C282.95,438.43 283.38,443.50 284.50,445.80 C285.62,448.10 287.32,448.87 288.90,450.20 C290.48,451.53 292.30,453.08 294.00,453.80 C295.70,454.52 296.13,454.37 299.10,454.50 C302.07,454.63 306.18,454.43 311.80,454.60 C317.42,454.77 323.10,455.10 332.80,455.50 C342.50,455.90 359.77,456.53 370.00,457.00 C380.23,457.47 386.13,457.88 394.20,458.30 C402.27,458.72 410.33,459.10 418.40,459.50 C426.47,459.90 431.50,460.30 442.60,460.70 C453.70,461.10 477.93,461.70 485.00,461.90" stroke="#EDB120" stroke-width="3.1" stroke-dasharray="3.2 3.2" stroke-linecap="butt"/>
<path d="M278.60,456.00 C278.60,452.17 278.45,437.42 278.60,433.00 C278.75,428.58 279.07,430.08 279.50,429.50 C279.93,428.92 280.70,428.92 281.20,429.50 C281.70,430.08 282.12,431.50 282.50,433.00 C282.88,434.50 283.33,437.58 283.50,438.50" stroke="#7E2F8E" stroke-width="3.1"  stroke-linecap="butt"/>
<path d="M283.50,438.50 C283.80,439.33 284.55,442.25 285.30,443.50 C286.05,444.75 286.85,445.07 288.00,446.00 C289.15,446.93 290.72,448.28 292.20,449.10 C293.68,449.92 295.58,450.42 296.90,450.90 C298.22,451.38 298.75,451.42 300.10,452.00 C301.45,452.58 302.98,453.28 305.00,454.40 C307.02,455.52 310.03,457.43 312.20,458.70 C314.37,459.97 315.55,460.90 318.00,462.00 C320.45,463.10 324.43,464.47 326.90,465.30 C329.37,466.13 329.03,466.13 332.80,467.00 C336.57,467.87 343.30,469.80 349.50,470.50 C355.70,471.20 362.55,471.42 370.00,471.20 C377.45,470.98 386.13,469.95 394.20,469.20 C402.27,468.45 410.33,467.52 418.40,466.70 C426.47,465.88 431.50,464.90 442.60,464.30 C453.70,463.70 477.93,463.30 485.00,463.10" stroke="#7E2F8E" stroke-width="3.1" stroke-dasharray="11 3.5 6.5 3.5" stroke-linecap="butt"/>
<path d="M278.40,470.00 C280.00,469.42 285.40,467.58 288.00,466.50 C290.60,465.42 291.67,464.62 294.00,463.50 C296.33,462.38 298.95,460.98 302.00,459.80 C305.05,458.62 308.57,457.53 312.30,456.40 C316.03,455.27 320.37,454.05 324.40,453.00 C328.43,451.95 332.47,450.90 336.50,450.10 C340.53,449.30 344.57,448.80 348.60,448.20 C352.63,447.60 356.65,447.03 360.70,446.50 C364.75,445.97 367.02,445.48 372.90,445.00 C378.78,444.52 388.42,443.93 396.00,443.60 C403.58,443.27 410.63,442.98 418.40,443.00 C426.17,443.02 434.52,443.25 442.60,443.70 C450.68,444.15 459.83,444.97 466.90,445.70 C473.97,446.43 481.98,447.70 485.00,448.10" stroke="#000000" stroke-width="3.1"  stroke-linecap="butt"/>
<path d="M278.30,490.00 L278.30,456.00" stroke="#4DBEEE" stroke-width="3.1"  stroke-linecap="butt"/>
<path d="M278.30,456.00 C278.50,456.37 277.88,457.15 279.50,458.20 C281.12,459.25 284.57,460.72 288.00,462.30 C291.43,463.88 295.10,465.38 300.10,467.70 C305.10,470.02 312.55,473.92 318.00,476.20 C323.45,478.48 326.85,479.50 332.80,481.40 C338.75,483.30 347.50,486.17 353.70,487.60 C359.90,489.03 363.25,488.83 370.00,490.00 C376.75,491.17 386.13,493.43 394.20,494.60 C402.27,495.77 410.33,496.40 418.40,497.00 C426.47,497.60 431.50,497.88 442.60,498.20 C453.70,498.52 477.93,498.78 485.00,498.90" stroke="#4DBEEE" stroke-width="3.1"  stroke-linecap="butt"/>
</g>
<text font-size="10.4" text-anchor="middle" transform="translate(278.00,527.61) scale(1,0.8)">0</text>
<text font-size="10.4" text-anchor="middle" transform="translate(319.50,527.61) scale(1,0.8)">2</text>
<text font-size="10.4" text-anchor="middle" transform="translate(361.00,527.61) scale(1,0.8)">4</text>
<text font-size="10.4" text-anchor="middle" transform="translate(402.50,527.61) scale(1,0.8)">6</text>
<text font-size="10.4" text-anchor="middle" transform="translate(444.00,527.61) scale(1,0.8)">8</text>
<text font-size="10.4" text-anchor="middle" transform="translate(485.50,527.61) scale(1,0.8)">10</text>
<text font-size="10.4" text-anchor="end" transform="translate(273.20,416.56) scale(1,0.8)">15</text>
<text font-size="10.4" text-anchor="end" transform="translate(273.20,442.06) scale(1,0.8)">10</text>
<text font-size="10.4" text-anchor="end" transform="translate(273.20,467.31) scale(1,0.8)">5</text>
<text font-size="10.4" text-anchor="end" transform="translate(273.20,492.81) scale(1,0.8)">0</text>
<text font-size="10.4" text-anchor="end" transform="translate(273.20,518.31) scale(1,0.8)">-5</text>
<text font-size="10.9" text-anchor="middle" transform="translate(384.2,532.6) scale(1,0.68)">Time (Seconds)</text>
<text font-size="9.7" text-anchor="middle" transform="translate(260.2,459.6) rotate(-90) scale(0.84,1)">ΔP total 1 (P.U)</text>
<text font-size="12.6" transform="translate(276.63,411.1) scale(1,0.68)">×10<tspan font-size="9.32" dy="-7.56">-3</tspan></text>
<rect x="286.7" y="413.5" width="191.5" height="27.5" fill="#fff" stroke="#262626" stroke-width="0.8"/>
<path d="M290.5,419H323" stroke="#0072BD" stroke-width="3.8"  fill="none"/>
<text font-size="9.8" transform="translate(326.5,421.75) scale(1,0.85)">PI</text>
<path d="M290.5,427.8H323" stroke="#D95319" stroke-width="3.8" stroke-dasharray="12.5 13" fill="none"/>
<text font-size="9.8" transform="translate(326.5,430.55) scale(1,0.85)">FOPI</text>
<path d="M290.5,436.5H323" stroke="#EDB120" stroke-width="3.8" stroke-dasharray="3.2 3.2" fill="none"/>
<text font-size="9.8" transform="translate(326.5,439.25) scale(1,0.85)">FPI</text>
<path d="M355.5,419H387" stroke="#7E2F8E" stroke-width="3.8" stroke-dasharray="11 3.5 6.5 3.5" fill="none"/>
<text font-size="9.8" transform="translate(390.6,421.75) scale(1,0.85)">FFOPI</text>
<path d="M355.5,427.8H387" stroke="#000000" stroke-width="3.8"  fill="none"/>
<text font-size="9.8" transform="translate(390.6,430.55) scale(1,0.85)">VIC based on FFOPI</text>
<path d="M355.5,436.5H387" stroke="#4DBEEE" stroke-width="3.8"  fill="none"/>
<text font-size="9.8" transform="translate(390.6,439.25) scale(1,0.85)">ΔPESS1 (P.U)</text>
<text x="197" y="173" font-size="9">VIC based</text>
<text x="197" y="185" font-size="9">on FFOPI</text>
<text x="247.5" y="234.8" font-size="9.2" text-anchor="middle">(c)</text>
<text x="247.5" y="399.3" font-size="9.2" text-anchor="middle">(d)</text>
<text x="247.5" y="545.3" font-size="9.2" text-anchor="middle">(e)</text>
</svg></body></html>
